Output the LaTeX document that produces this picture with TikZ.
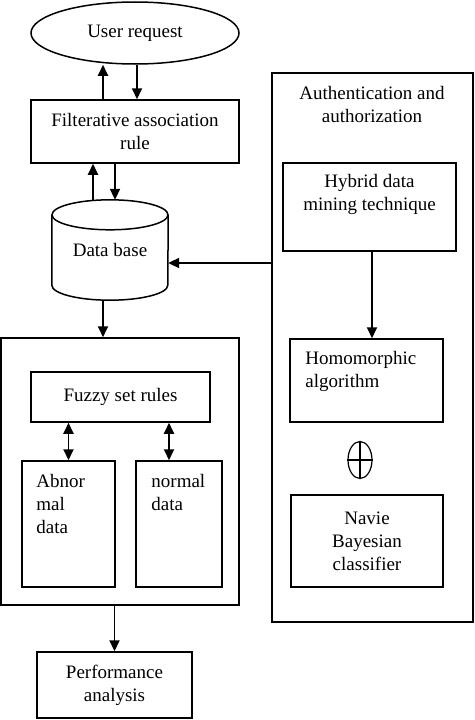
\documentclass[tikz,border=0pt]{standalone}
\usepackage{fontspec}
\setmainfont{Liberation Serif}
\usetikzlibrary{
    shapes.geometric,
    positioning,
    arrows.meta
}
\tikzset{
    >={Triangle[length=11pt,width=10pt]},
    caja/.style={
        draw,
        line width=1.5pt,
        inner sep=0pt,
        align=center
    },
    texto/.style={
        inner sep=0pt,
        align=left,
        anchor=north west
    },
    flecha/.style={line width=1.9pt}
}

\begin{document}
\begin{tikzpicture}[
    x=1pt, y=-1pt,
    font=\fontsize{19}{23}\selectfont
]

    \useasboundingbox (0,0) rectangle (474,720);

    % Entrada
    \node[caja, ellipse, minimum width=208pt, minimum height=62pt] (user) at (135,33) {User request};
    \node[caja, minimum width=208pt, minimum height=63pt] (filt) at (135,131.5) {Filterative association\\rule};

    % Base de datos
    \node[inner sep=0pt, minimum width=116pt, minimum height=100pt] (db) at (110,250) {Data base};
    \draw[line width=1.5pt] ([yshift=-15pt]db.north) ellipse [x radius=58pt, y radius=15pt];
    \draw[line width=1.5pt]
        ([yshift=-15pt]db.north west) -- ([yshift=15pt]db.south west)
        arc[start angle=180, end angle=360, x radius=58pt, y radius=15pt]
        -- ([yshift=-15pt]db.north east);
    \coordinate (dbin) at ([yshift=-13pt]db.east);

    % Bloque izquierdo
    \node[caja, minimum width=238pt, minimum height=267pt] (lbox) at (120,471.5) {};
    \node[caja, minimum width=179pt, minimum height=50pt] (fuzzy) at (120.5,397) {Fuzzy set rules};
    \node[caja, minimum width=93pt, minimum height=126pt] (abn) at (68.5,524) {};
    \node[caja, minimum width=86pt, minimum height=126pt] (nor) at (179,524) {};
    \node[texto] (abntxt) at ([xshift=15pt,yshift=-14pt]abn.north west) {Abnor\\mal\\data};
    \node[texto] (nortxt) at ([xshift=16pt,yshift=-14pt]nor.north west) {normal\\data};

    % Salida
    \node[caja, minimum width=155pt, minimum height=66pt] (perf) at (114.5,685) {Performance\\analysis};

    % Bloque derecho
    \node[caja, minimum width=201pt, minimum height=549pt] (auth) at (372.5,347.5) {};
    \node[align=center, inner sep=0pt] (authtxt) at (372,104.5) {Authentication and\\authorization};
    \node[caja, minimum width=173pt, minimum height=88pt] (hyb) at (369.5,207) {};
    \node[align=center, inner sep=0pt] (hybtxt) at ([yshift=12.5pt]hyb.center) {Hybrid data\\mining technique};
    \node[caja, minimum width=153pt, minimum height=83pt] (homo) at (366.5,380.5) {};
    \node[texto] (homotxt) at ([xshift=16pt,yshift=-13pt]homo.north west) {Homomorphic\\algorithm};
    \node[draw, ellipse, line width=1.2pt, inner sep=0pt, minimum width=24pt, minimum height=37pt] (plus) at (360,460) {};
    \draw[line width=1.2pt] (plus.north) -- (plus.south) (plus.west) -- (plus.east);
    \node[caja, minimum width=152pt, minimum height=92pt] (bayes) at (367,541) {Navie\\Bayesian\\classifier};

    % Flechas
    \draw[flecha, ->] ([xshift=-32pt]filt.north) -- ([xshift=-32pt]filt.north |- user.south);
    \draw[flecha, ->] ([xshift=2pt]user.south) -- ([xshift=2pt]filt.north);
    \draw[flecha, ->] ([xshift=-17pt]db.north) -- ([xshift=-17pt]db.north |- filt.south);
    \draw[flecha, ->] ([xshift=-20pt]filt.south) -- ([xshift=-20pt]filt.south |- db.north);
    \draw[flecha, ->] ([xshift=-7pt]db.south) -- ([xshift=-7pt]db.south |- lbox.north);
    \draw[flecha, <->] (abn.north) -- (abn.north |- fuzzy.south);
    \draw[flecha, <->] ([xshift=-10pt]nor.north) -- ([xshift=-10pt]nor.north |- fuzzy.south);
    \draw[flecha, ->] (lbox.south -| perf.north) -- (perf.north);
    \draw[flecha, ->] (auth.west |- dbin) -- (dbin);
    \draw[flecha, ->] ([xshift=2.5pt]hyb.south) -- ([xshift=2.5pt]hyb.south |- homo.north);

\end{tikzpicture}
\end{document}
